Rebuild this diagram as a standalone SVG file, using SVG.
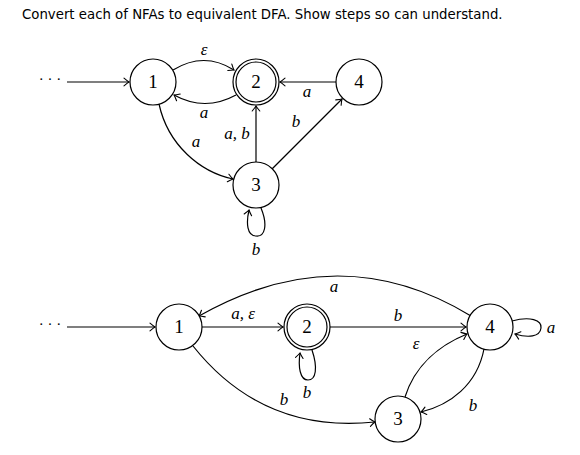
<svg xmlns="http://www.w3.org/2000/svg" width="580" height="455" viewBox="0 0 580 455">
<defs>
<marker id="ar" markerUnits="userSpaceOnUse" markerWidth="12" markerHeight="12" viewBox="-7 -6 8 12" refX="0" refY="0" orient="auto">
<path d="M-5,-3.8 Q-1.5,-0.8 0,0 Q-1.5,0.8 -5,3.8" fill="none" stroke="#000" stroke-width="1.1" stroke-linecap="round"/>
</marker>
</defs>
<style>
.n{fill:#fff;stroke:#000;stroke-width:1.2}
.e{fill:none;stroke:#000;stroke-width:1.2;marker-end:url(#ar)}
.nl{font-family:"Liberation Serif","DejaVu Serif",serif;font-size:19px;text-anchor:middle}
.l{font-family:"Liberation Serif","DejaVu Serif",serif;font-style:italic;font-size:17px;text-anchor:middle}
.dots{font-family:"Liberation Serif",serif;font-size:15px;text-anchor:middle}
.t{font-family:"DejaVu Sans","Noto Sans",sans-serif;font-size:13.3px}
</style>
<rect width="580" height="455" fill="#fff"/>
<text class="t" x="22" y="19">Convert each of NFAs to equivalent DFA. Show steps so can understand.</text>

<g id="connectors">
<!-- top -->
<line class="e" x1="67" y1="82" x2="129" y2="82"/>
<path class="e" d="M173,70 Q204,51 234,70"/>
<path class="e" d="M236,95 Q205,112 174,95"/>
<line class="e" x1="336" y1="82" x2="280" y2="82"/>
<line class="e" x1="256" y1="162" x2="256" y2="106"/>
<line class="e" x1="272" y1="169" x2="342" y2="99"/>
<path class="e" d="M159,104 C168,145 200,172 233,179"/>
<path class="e" d="M261,208 C268,225 265,237 256,236 C247,236 246,223 249,210"/>
<!-- bottom -->
<line class="e" x1="67" y1="327" x2="155" y2="327"/>
<line class="e" x1="202" y1="327" x2="283" y2="327"/>
<line class="e" x1="330" y1="327" x2="466" y2="327"/>
<path class="e" d="M471,316 Q340,236 199,316"/>
<path class="e" d="M312,350 C318,368 316,380 308,380 C300,380 298,367 300,353"/>
<path class="e" d="M512,321 C530,316 542,320 541,328 C540,337 528,338 515,334"/>
<path class="e" d="M193,346 C240,405 300,430 375,422"/>
<path class="e" d="M405,397 C415,365 440,345 467,334"/>
<path class="e" d="M484,349 C477,385 450,405 421,412"/>
</g>

<g id="labels">
<text class="dots" x="50" y="84">· · ·</text>
<text class="l" x="204" y="55">ε</text>
<text class="l" x="204" y="118">a</text>
<text class="l" x="307" y="97">a</text>
<text class="l" x="237" y="139">a, b</text>
<text class="l" x="296" y="127">b</text>
<text class="l" x="196" y="147">a</text>
<text class="l" x="256" y="255">b</text>
<text class="dots" x="50" y="329">· · ·</text>
<text class="l" x="243" y="319">a, ε</text>
<text class="l" x="398" y="321">b</text>
<text class="l" x="334" y="292">a</text>
<text class="l" x="307" y="398">b</text>
<text class="l" x="551" y="333">a</text>
<text class="l" x="284" y="405">b</text>
<text class="l" x="416" y="349">ε</text>
<text class="l" x="473" y="411">b</text>
</g>

<g id="t1"><circle class="n" cx="153" cy="82" r="23"/><text class="nl" x="153" y="88">1</text></g>
<g id="t2"><circle class="n" cx="256" cy="82" r="23"/><circle class="n" cx="256" cy="82" r="20"/><text class="nl" x="256" y="88">2</text></g>
<g id="t3"><circle class="n" cx="256" cy="185" r="23"/><text class="nl" x="256" y="191">3</text></g>
<g id="t4"><circle class="n" cx="359" cy="82" r="23"/><text class="nl" x="359" y="88">4</text></g>

<g id="b1"><circle class="n" cx="179" cy="327" r="23"/><text class="nl" x="179" y="333">1</text></g>
<g id="b2"><circle class="n" cx="307" cy="327" r="23"/><circle class="n" cx="307" cy="327" r="20"/><text class="nl" x="307" y="333">2</text></g>
<g id="b3"><circle class="n" cx="398" cy="419" r="23"/><text class="nl" x="398" y="425">3</text></g>
<g id="b4"><circle class="n" cx="490" cy="327" r="23"/><text class="nl" x="490" y="333">4</text></g>
</svg>
